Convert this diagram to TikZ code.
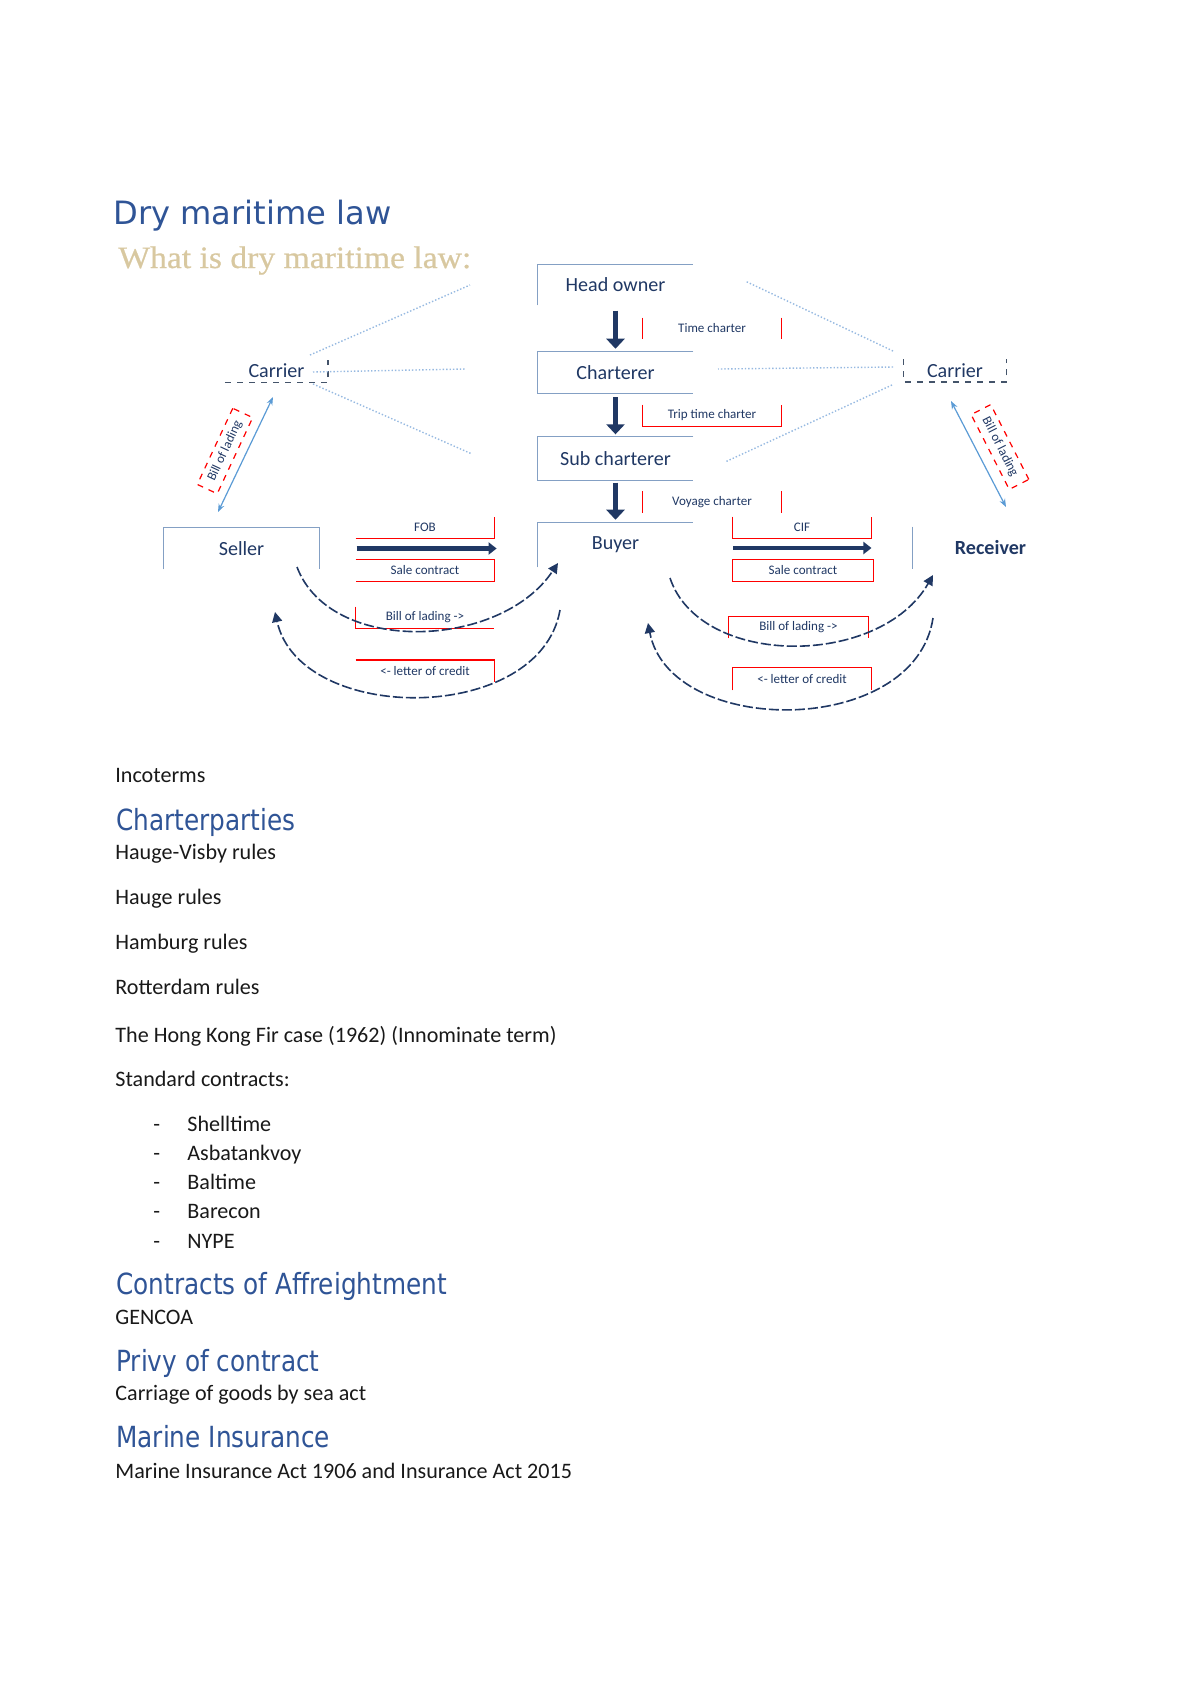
\documentclass[tikz,border=0pt]{standalone}
\usepackage{fontspec}
\setmainfont{Carlito}
\newfontfamily\headfont[FakeStretch=0.85]{DejaVu Sans}
\newfontfamily\titlefont{DejaVu Sans}
\newfontfamily\leadfont[FakeStretch=1.08,FakeBold=0.6]{Liberation Serif}
\usetikzlibrary{arrows.meta}

\definecolor{headblue}{RGB}{47,84,150}
\definecolor{navy}{RGB}{32,56,100}
\definecolor{boxblue}{RGB}{132,160,196}
\definecolor{dotblue}{RGB}{150,185,225}
\definecolor{slate}{RGB}{68,84,106}
\definecolor{ladblue}{RGB}{91,155,213}
\definecolor{sand}{RGB}{216,200,160}
\definecolor{markred}{RGB}{255,0,0}
\definecolor{ink}{RGB}{25,25,25}

\begin{document}
\begin{tikzpicture}[x=0.0175cm, y=-0.0175cm,
  party/.style={minimum width=2.7125cm, inner sep=0pt, font=\fontsize{10}{12}\selectfont, text=navy},
  side/.style={draw=boxblue, line width=0.8pt},
  carrier/.style={minimum width=1.79cm, minimum height=0.385cm, inner sep=0pt, font=\fontsize{10}{12}\selectfont, text=navy},
  carrline/.style={draw=slate, dashed, line width=0.6pt},
  tag/.style={minimum width=2.415cm, minimum height=0.3675cm, inner sep=0pt, font=\fontsize{6.5}{8}\selectfont, text=navy},
  redline/.style={draw=markred, line width=0.7pt},
  chain/.style={navy, line width=2.6pt, -{Triangle[width=9pt,length=5pt]}},
  deal/.style={navy, line width=2.2pt, -{Triangle[width=6pt,length=4pt]}},
  hint/.style={dotblue, densely dotted, line width=0.7pt},
  paper/.style={navy, dash pattern=on 5pt off 1.5pt, line width=0.8pt, -{Triangle[width=5pt,length=5pt]}},
  lading/.style={ladblue, line width=0.6pt, {Stealth[length=4pt]}-{Stealth[length=4pt]}},
  ladtag/.style={draw=markred, dashed, line width=0.6pt, minimum width=1.47cm, minimum height=0.385cm, inner sep=0pt, font=\fontsize{6.5}{8}\selectfont, text=navy},
  head/.style={anchor=base west, inner sep=0pt, text=headblue, font=\headfont\fontsize{14.5}{17}\selectfont},
  body/.style={anchor=base west, inner sep=0pt, text=ink, font=\fontsize{11}{13}\selectfont}]

\useasboundingbox (0,0) rectangle (1200,1698);

% -------- Titles -----------
\node[head, font=\titlefont\fontsize{16}{19}\selectfont] (title) at (113,224) {Dry maritime law};
\node[anchor=base west, inner sep=0pt, text=sand, font=\leadfont\fontsize{15.5}{18}\selectfont] (what) at (118,268) {What is dry maritime law:};

% -------- Chain of parties -----------
\node[party, minimum height=0.7cm]    (ho)  at (615.5,285)   {Head owner};
\node[party, minimum height=0.7175cm] (ch)  at (615.5,372.5) {Charterer};
\node[party, minimum height=0.7525cm] (sub) at (615.5,458.5) {Sub charterer};
\node[party, minimum height=0.77cm]   (by)  at (615.5,545)   {Buyer};
\node[party, minimum height=0.7175cm] (sel) at (241.5,548.5) {Seller};
\node[party, minimum height=0.735cm, font=\bfseries\fontsize{10}{12}\selectfont] (rec) at (990.5,548) {Receiver};

\draw[side] (ho.south west) -- (ho.north west) -- (ho.north east);
\draw[side] (ch.north east) -- (ch.north west) -- (ch.south west) -- (ch.south east);
\draw[side] (sub.north east) -- (sub.north west) -- (sub.south west) -- (sub.south east);
\draw[side] (by.south west) -- (by.north west) -- (by.north east);
\draw[side] (sel.south west) -- (sel.north west) -- (sel.north east) -- (sel.south east);
\draw[side] (rec.north west) -- (rec.south west);

\draw[chain, shorten <=0.09cm, shorten >=0.05cm] (ho.south) -- (ch.north);
\draw[chain, shorten <=0.07cm, shorten >=0.04cm] (ch.south) -- (sub.north);
\draw[chain, shorten <=0.04cm, shorten >=0.05cm] (sub.south) -- (by.north);

% -------- Carriers -----------
\node[carrier] (lcar) at (276.5,371) {Carrier};
\node[carrier] (rcar) at (955,370.5) {Carrier};
\draw[carrline] (lcar.south west) -- (lcar.south east) -- (lcar.north east);
\draw[carrline] (rcar.north west) -- (rcar.south west) -- (rcar.south east) -- (rcar.north east);

\coordinate (la1) at (310,355); \coordinate (lb1) at (470,285);
\coordinate (la2) at (313,372); \coordinate (lb2) at (465,369);
\coordinate (la3) at (313,384); \coordinate (lb3) at (472,454);
\coordinate (ra1) at (893,351); \coordinate (rb1) at (745,281);
\coordinate (ra2) at (893,367); \coordinate (rb2) at (718,369);
\coordinate (ra3) at (892,385); \coordinate (rb3) at (725,462);
\draw[hint] (la1) -- (lb1);
\draw[hint] (la2) -- (lb2);
\draw[hint] (la3) -- (lb3);
\draw[hint] (ra1) -- (rb1);
\draw[hint] (ra2) -- (rb2);
\draw[hint] (ra3) -- (rb3);

\coordinate (lup) at (273,397); \coordinate (ldown) at (218,512);
\coordinate (rup) at (951,401); \coordinate (rdown) at (1006,507);
\draw[lading] (ldown) -- (lup);
\draw[lading] (rup) -- (rdown);
\node[ladtag, rotate=65]  (lbl) at (225,451)  {Bill of lading};
\node[ladtag, rotate=-63] (rbl) at (1000,447) {Bill of lading};

% -------- Charter tags -----------
\node[tag] (tc)  at (712,328.5) {Time charter};
\node[tag] (ttc) at (712,415.5) {Trip time charter};
\node[tag] (vc)  at (712,502)   {Voyage charter};
\draw[redline] (tc.north west) -- (tc.south west);
\draw[redline] (tc.north east) -- (tc.south east);
\draw[redline] (ttc.north west) -- (ttc.south west) -- (ttc.south east) -- (ttc.north east);
\draw[redline] (vc.north west) -- (vc.south west);
\draw[redline] (vc.north east) -- (vc.south east);

% -------- Sales -----------
\draw[deal, shorten <=0.65cm, shorten >=0.7175cm] (sel.east) -- (sel.east -| by.west);
\draw[deal, shorten <=0.7cm, shorten >=0.72cm] (rec.west -| by.east) -- (rec.west);

\node[tag] (fob) at (425,527.5) {FOB};
\node[tag] (slc) at (425,570.5) {Sale contract};
\node[tag] (bl)  at (425,617.5) {Bill of lading ->};
\node[tag] (lc)  at (425,671)   {<- letter of credit};
\draw[redline] (fob.south west) -- (fob.south east) -- (fob.north east);
\draw[redline] (slc.north west) -- (slc.north east) -- (slc.south east) -- (slc.south west);
\draw[redline] (bl.north west) -- (bl.south west) -- (bl.south east);
\draw[redline] (lc.north west) -- (lc.north east) -- (lc.south east);

\node[tag] (cif) at (802,527.5) {CIF};
\node[tag, minimum width=2.45cm] (src) at (803,570.5) {Sale contract};
\node[tag, minimum width=2.4325cm] (br) at (798.5,627.5) {Bill of lading ->};
\node[tag, minimum height=0.385cm] (rc) at (802,679) {<- letter of credit};
\draw[redline] (cif.north west) -- (cif.south west) -- (cif.south east) -- (cif.north east);
\draw[redline] (src.north west) rectangle (src.south east);
\draw[redline] (br.south west) -- (br.north west) -- (br.north east) -- (br.south east);
\draw[redline] (rc.south west) -- (rc.north west) -- (rc.north east) -- (rc.south east);

\coordinate (ls1) at (297,567); \coordinate (le1) at (558,563);
\coordinate (ls2) at (560,610); \coordinate (le2) at (275,612);
\coordinate (rs1) at (670,578); \coordinate (re1) at (933,575);
\coordinate (rs2) at (933,618); \coordinate (re2) at (648,623);
\draw[paper] (ls1) .. controls (330,655) and (500,650) .. (le1);
\draw[paper] (ls2) .. controls (540,725) and (300,725) .. (le2);
\draw[paper] (rs1) .. controls (700,668) and (880,668) .. (re1);
\draw[paper] (rs2) .. controls (915,738) and (670,738) .. (re2);

% -------- Notes -----------
\node[body] (inco)  at (115,782)  {Incoterms};
\node[head] (cp)    at (116,830)  {Charterparties};
\node[body] (hv)    at (115,859)  {Hauge-Visby rules};
\node[body] (hg)    at (115,904)  {Hauge rules};
\node[body] (hb)    at (115,949)  {Hamburg rules};
\node[body] (rt)    at (115,994)  {Rotterdam rules};
\node[body] (hk)    at (115,1042) {The Hong Kong Fir case (1962) (Innominate term)};
\node[body] (std)   at (115,1086) {Standard contracts:};
\node[body] (d1)    at (153,1131) {-};
\node[body] (shell) at (187,1131) {Shelltime};
\node[body] (d2)    at (153,1160) {-};
\node[body] (asba)  at (187,1160) {Asbatankvoy};
\node[body] (d3)    at (153,1189) {-};
\node[body] (balt)  at (187,1189) {Baltime};
\node[body] (d4)    at (153,1218) {-};
\node[body] (bare)  at (187,1218) {Barecon};
\node[body] (d5)    at (153,1248) {-};
\node[body] (nype)  at (187,1248) {NYPE};
\node[head] (coa)   at (116,1294) {Contracts of Affreightment};
\node[body] (gen)   at (115,1324) {GENCOA};
\node[head] (privy) at (116,1371) {Privy of contract};
\node[body] (cogsa) at (115,1400) {Carriage of goods by sea act};
\node[head] (mi)    at (116,1447) {Marine Insurance};
\node[body] (mia)   at (115,1478) {Marine Insurance Act 1906 and Insurance Act 2015};

\end{tikzpicture}
\end{document}
